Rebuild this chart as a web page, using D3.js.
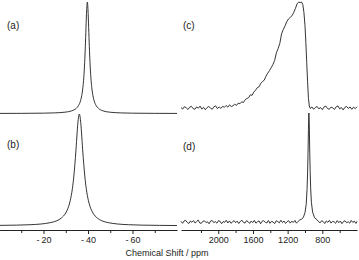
<!DOCTYPE html>
<html>
<head>
<meta charset="utf-8">
<script src="https://cdn.jsdelivr.net/npm/d3@7"></script>
<style>
  body { margin: 0; background: #fff; }
  text { font-family: "Liberation Sans", Arial, sans-serif; fill: #222; }
</style>
</head>
<body>
<div id="chart"></div>
<script>
// spectra as [ppm, normalised intensity]
var specA = [[0,0.0008],[-10,0.0014],[-20,0.003],[-25,0.0056],[-29.7,0.012],[-32.7,0.024],[-34.7,0.046],
  [-35.7,0.070],[-36.7,0.118],[-37.2,0.162],[-37.7,0.232],[-38.1,0.32],[-38.5,0.457],[-38.8,0.60],
  [-39.1,0.77],[-39.4,0.93],[-39.7,1],[-40.0,0.93],[-40.3,0.77],[-40.6,0.60],[-40.9,0.457],[-41.3,0.32],
  [-41.7,0.232],[-42.2,0.162],[-42.7,0.118],[-43.7,0.070],[-44.7,0.046],[-46.7,0.024],[-49.7,0.012],
  [-54.7,0.0054],[-60,0.0029],[-70,0.0013],[-80,0.0007]];

var specB = [[0,0.0037],[-8,0.006],[-14,0.0098],[-19,0.0163],[-23,0.028],[-26,0.045],[-28,0.069],
  [-30,0.115],[-31,0.157],[-32,0.224],[-33,0.335],[-33.6,0.437],[-34.1,0.55],[-34.6,0.68],[-35.1,0.83],
  [-35.6,0.95],[-36.1,1],[-36.6,0.95],[-37.1,0.83],[-37.6,0.68],[-38.1,0.55],[-38.6,0.437],[-39.2,0.335],
  [-40.2,0.224],[-41.2,0.157],[-42.2,0.115],[-44.2,0.069],[-46.2,0.045],[-49.2,0.028],[-53.2,0.0163],
  [-58.2,0.0098],[-64.2,0.006],[-72.2,0.0037],[-80,0.0025]];

var specC = [[2430,0.004],[2410,-0.010],[2390,0.012],[2370,0.002],[2350,-0.014],[2330,0.008],[2310,0.016],
  [2290,-0.006],[2270,-0.012],[2250,0.010],[2230,-0.002],[2210,0.018],[2190,-0.010],[2170,0.006],
  [2150,-0.016],[2130,0.004],[2110,0.014],[2090,0.000],[2070,-0.012],[2050,0.012],[2030,0.020],
  [2010,-0.006],[1990,0.010],[1970,-0.004],[1950,0.016],[1930,0.006],[1910,0.024],[1890,0.008],
  [1870,0.030],[1850,0.014],[1830,0.022],[1810,0.036],[1790,0.024],[1770,0.046],[1750,0.040],
  [1730,0.058],[1710,0.052],[1690,0.078],[1670,0.090],[1650,0.098],[1630,0.124],[1610,0.120],
  [1590,0.150],[1570,0.168],[1550,0.192],[1530,0.200],[1510,0.232],[1490,0.250],[1470,0.262],
  [1450,0.300],[1430,0.328],[1410,0.352],[1390,0.380],[1370,0.410],[1350,0.448],[1330,0.520],
  [1310,0.560],[1290,0.610],[1270,0.700],[1250,0.740],[1230,0.775],[1210,0.815],[1190,0.840],
  [1170,0.855],[1150,0.870],[1130,0.900],[1110,0.940],[1090,0.985],[1070,1.000],[1055,0.994],
  [1040,1.000],[1025,0.975],[1012,0.900],[1000,0.780],[990,0.620],[980,0.430],[970,0.250],[960,0.090],
  [950,0.020],[940,-0.004],[920,0.010],[900,-0.012],[880,0.006],[860,0.014],[840,-0.008],[820,0.004],
  [800,-0.016],[780,0.010],[760,0.018],[740,-0.004],[720,-0.012],[700,0.008],[680,0.002],[660,-0.014],
  [640,0.012],[620,0.020],[600,-0.008],[580,0.004],[560,-0.018],[540,0.006],[520,0.014],[500,-0.004],
  [480,0.010],[460,-0.012],[440,0.008],[420,-0.006],[400,0.012]];

var specD = [[2430,0.006],[2412,-0.012],[2394,0.010],[2376,0.015],[2358,-0.004],[2340,-0.014],[2322,0.008],
  [2304,-0.002],[2286,0.013],[2268,-0.010],[2250,0.004],[2232,0.018],[2214,-0.008],[2196,-0.013],
  [2178,0.006],[2160,0.011],[2142,-0.005],[2124,0.002],[2106,-0.016],[2088,0.009],[2070,0.014],
  [2052,-0.006],[2034,0.003],[2016,-0.011],[1998,0.012],[1980,0.007],[1962,-0.015],[1944,0.004],
  [1926,-0.003],[1908,0.016],[1890,-0.009],[1872,0.010],[1854,-0.012],[1836,0.001],[1818,0.013],
  [1800,-0.007],[1782,0.008],[1764,-0.014],[1746,0.005],[1728,0.017],[1710,-0.004],[1692,-0.010],
  [1674,0.012],[1656,0.003],[1638,-0.013],[1620,0.009],[1602,-0.006],[1584,0.015],[1566,-0.011],
  [1548,0.002],[1530,0.010],[1512,-0.016],[1494,0.007],[1476,0.012],[1458,-0.003],[1440,-0.009],
  [1422,0.014],[1404,-0.012],[1386,0.006],[1368,0.000],[1350,-0.015],[1332,0.011],[1314,0.004],
  [1296,-0.008],[1278,0.016],[1260,-0.005],[1242,0.009],[1224,-0.013],[1206,0.003],[1188,0.012],
  [1170,-0.010],[1152,0.007],[1134,-0.004],[1116,0.014],[1098,-0.011],[1080,0.005],[1062,0.018],
  [1040,0.026],[1020,0.040],[1000,0.085],[986,0.16],[976,0.30],[970,0.45],[965,0.62],[960,0.85],
  [955,1.0],[950,0.88],[945,0.64],[940,0.46],[935,0.32],[926,0.18],[912,0.09],[890,0.04],[860,0.02],
  [844,0.004],[826,-0.008],[808,0.012],[790,0.004],[772,-0.014],[754,0.010],[736,-0.003],[718,0.015],
  [700,-0.010],[682,0.006],[664,0.001],[646,-0.012],[628,0.013],[610,-0.006],[592,0.009],[574,-0.015],
  [556,0.005],[538,0.011],[520,-0.007],[502,0.003],[484,-0.011],[466,0.014],[448,-0.004],[430,0.008],
  [412,-0.013],[400,0.006]];

var leftMajor = [-20, -40, -60];
var leftMinor = [-10, -30, -50, -70];
var rightMajor = [2000, 1600, 1200, 800];
var rightMinor = [2200, 1800, 1400, 1000, 600];
var panelNames = ["(a)", "(b)", "(c)", "(d)"];

var width = 359,
    height = 260,
    axisY = 230;

var svg = d3.select("#chart")
  .append("svg")
    .attr("width", width)
    .attr("height", height);

// x scales, one per column (ppm runs high -> low)
var xL = d3.scaleLinear().domain([0, -80]).range([-1, 177]);
var xR = d3.scaleLinear().domain([2430, 400]).range([181, 357]);

// y scales, one per trace
var yA = d3.scaleLinear().domain([0, 1]).range([113.5, 2]);
var yB = d3.scaleLinear().domain([0, 1]).range([225.8, 114]);
var yC = d3.scaleLinear().domain([0, 1]).range([108, 2]);
var yD = d3.scaleLinear().domain([0, 1]).range([222, 113]);

function trace(data, x, y, curve) {
  var line = d3.line()
    .x(function(d) { return x(d[0]); })
    .y(function(d) { return y(d[1]); })
    .curve(curve);
  svg.append("path")
    .datum(data)
    .attr("d", line)
    .attr("fill", "none")
    .attr("stroke", "#1e1e1e")
    .attr("stroke-width", 0.9);
}

trace(specA, xL, yA, d3.curveMonotoneX);
trace(specB, xL, yB, d3.curveMonotoneX);
trace(specC, xR, yC, d3.curveLinear);
trace(specD, xR, yD, d3.curveLinear);

// panel letters
var letterPos = [[7, 28.5], [7, 148], [183, 28.5], [183, 149.5]];
svg.selectAll(".plabel")
  .data(panelNames)
  .enter()
  .append("text")
    .attr("class", "plabel")
    .attr("x", function(d, i) { return letterPos[i][0]; })
    .attr("y", function(d, i) { return letterPos[i][1]; })
    .style("font-size", "10px")
    .text(function(d) { return d; });

// axes
function styleAxis(g) {
  g.selectAll("path.domain").attr("stroke", "#222");
  g.selectAll(".tick line").attr("stroke", "#222");
  g.selectAll(".tick text").style("font-size", "9px").attr("fill", "#222")
    .attr("font-family", null);
}

var gL = svg.append("g")
  .attr("transform", "translate(0," + axisY + ")")
  .call(d3.axisBottom(xL)
    .tickValues(leftMajor)
    .tickSize(4)
    .tickSizeOuter(0)
    .tickPadding(3)
    .tickFormat(function(d) { return "-\u2009" + Math.abs(d); }));
styleAxis(gL);

var gLm = svg.append("g")
  .attr("transform", "translate(0," + axisY + ")")
  .call(d3.axisBottom(xL).tickValues(leftMinor).tickSize(3).tickFormat(""));
gLm.select("path.domain").remove();
styleAxis(gLm);

var gR = svg.append("g")
  .attr("transform", "translate(0," + axisY + ")")
  .call(d3.axisBottom(xR)
    .tickValues(rightMajor)
    .tickSize(4)
    .tickSizeOuter(0)
    .tickPadding(3)
    .tickFormat(d3.format("d")));
styleAxis(gR);

var gRm = svg.append("g")
  .attr("transform", "translate(0," + axisY + ")")
  .call(d3.axisBottom(xR).tickValues(rightMinor).tickSize(3).tickFormat(""));
gRm.select("path.domain").remove();
styleAxis(gRm);

// common x title
svg.append("text")
  .attr("x", 167)
  .attr("y", 256)
  .attr("text-anchor", "middle")
  .style("font-size", "9px")
  .text("Chemical Shift / ppm");
</script>
</body>
</html>
